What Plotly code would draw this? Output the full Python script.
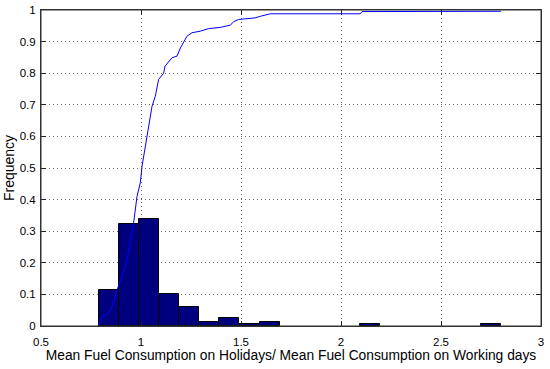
import numpy as np
import plotly.graph_objects as go

# Histogram: 20 equal-width bins between data min and max
data_min = 0.788
data_max = 2.800
bin_fraction = [19/168, 54/168, 57/168, 17/168, 10/168, 2/168, 4/168, 1/168, 2/168, 0,
                0, 0, 0, 1/168, 0, 0, 0, 0, 0, 1/168]

cdf_x = [0.785, 0.805, 0.83, 0.855, 0.88, 0.905, 0.93, 0.9465, 0.963, 0.98, 0.9965,
         1.005, 1.03, 1.055, 1.0715, 1.088, 1.113, 1.12, 1.155, 1.18, 1.197, 1.213,
         1.23, 1.255, 1.2965, 1.338, 1.3965, 1.4465, 1.463, 1.488, 1.5465, 1.57,
         1.5965, 1.6465, 2.096, 2.105, 2.80]
cdf_y = [0.0, 0.029, 0.035, 0.061, 0.114, 0.156, 0.209, 0.263, 0.326, 0.41, 0.453,
         0.505, 0.60, 0.695, 0.727, 0.78, 0.80, 0.822, 0.849, 0.854, 0.88, 0.90,
         0.917, 0.928, 0.933, 0.941, 0.945, 0.952, 0.963, 0.97, 0.975, 0.975,
         0.98, 0.988, 0.988, 0.995, 0.996]

x_ticks = [0.5, 1, 1.5, 2, 2.5, 3]
y_ticks = [0, 0.1, 0.2, 0.3, 0.4, 0.5, 0.6, 0.7, 0.8, 0.9, 1]

n_bins = len(bin_fraction)
width = (data_max - data_min) / n_bins
centers = data_min + width * (np.arange(n_bins) + 0.5)
bar_vals = [v if v > 0 else None for v in bin_fraction]

fig = go.Figure()
fig.add_trace(go.Bar(x=centers, y=bar_vals, width=width,
                     marker=dict(color="#00007f", line=dict(color="black", width=1)),
                     showlegend=False))
fig.add_trace(go.Scatter(x=cdf_x, y=cdf_y, mode="lines",
                         line=dict(color="#0000ff", width=1), showlegend=False))

font = dict(family="Arial, Liberation Sans, sans-serif", color="black")
axis_common = dict(showline=True, linecolor="#333", linewidth=1, mirror="ticks",
                   ticks="inside", ticklen=5, tickcolor="#222", automargin=False,
                   showgrid=True, gridcolor="#666", griddash="1px,3px", gridwidth=1,
                   zeroline=False, tickfont=dict(size=11.5, **font))
fig.update_layout(
    width=550, height=369,
    margin=dict(l=41, r=9, t=10, b=43),
    paper_bgcolor="white", plot_bgcolor="white",
    bargap=0,
    xaxis=dict(range=[0.5, 3], tickvals=x_ticks, ticktext=[f"{v:g}" for v in x_ticks],
               ticklabelstandoff=5,
               title=dict(text="Mean Fuel Consumption on Holidays/ Mean Fuel Consumption on Working days",
                          font=dict(size=13.8, **font), standoff=0),
               **axis_common),
    yaxis=dict(range=[0, 1], tickvals=y_ticks, ticktext=[f"{v:g}" for v in y_ticks],
               ticklabelstandoff=2,
               title=dict(text="Frequency", font=dict(size=14, **font), standoff=1),
               **axis_common),
    shapes=[dict(type="rect", xref="paper", yref="paper", x0=0, y0=0, x1=1, y1=1,
                 line=dict(color="#333", width=1), layer="above")],
)
fig.write_html("out.html", config={"displayModeBar": False},
               post_script="document.body.style.margin='0';")
